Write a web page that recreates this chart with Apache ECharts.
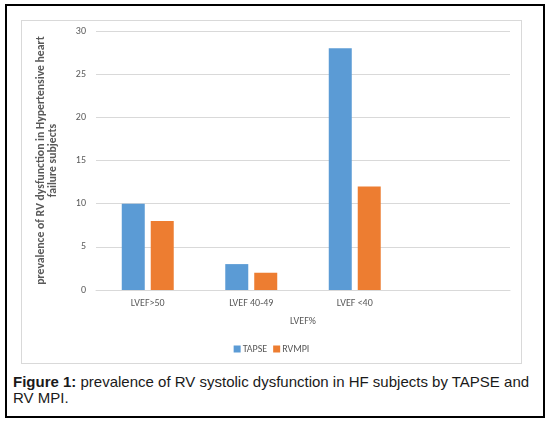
<!DOCTYPE html>
<html>
  <head>
    <meta charset="utf-8" />
    <title>RV dysfunction</title>
    <script src="https://cdn.jsdelivr.net/npm/echarts@6.0.0/dist/echarts.min.js"></script>
    <style>
      body { margin: 0; width: 549px; height: 423px; background: #fff; position: relative; overflow: hidden; }
      #frame { position: absolute; left: 5px; top: 4px; width: 536px; height: 410px; border: 2px solid #000; }
      #chartContainer { position: absolute; left: 21px; top: 20px; width: 499px; height: 342px; border: 1px solid #d9d9d9; }
      #caption { position: absolute; left: 13px; top: 374px; width: 528px; font-family: "Liberation Sans", Arial, sans-serif; font-size: 15px; line-height: 16px; color: #1a1a1a; }
    </style>
  </head>
  <body>
    <div id="frame"></div>
    <div id="chartContainer"></div>
    <div id="caption"><b>Figure 1:</b> prevalence of RV systolic dysfunction in HF subjects by TAPSE and RV MPI.</div>
    <script>
        // 数据
        var categories = ['LVEF>50', 'LVEF 40-49', 'LVEF <40', ''];
        var tapse = [10, 3, 28, null];
        var rvmpi = [8, 2, 12, null];
        var yTicks = [0, 30, 5]; // min, max, interval

        var myChart = echarts.init(document.getElementById('chartContainer'));
        var labelFont = { color: '#595959', fontFamily: 'Carlito, Lato', fontSize: 10 };

        var option = {
          animation: false,
          grid: { left: 74, right: 11, top: 10, bottom: 73 },
          legend: {
            data: ['TAPSE', 'RVMPI'],
            top: 318,
            left: 'center',
            itemWidth: 7,
            itemHeight: 7,
            itemGap: 6,
            icon: 'rect',
            textStyle: Object.assign({}, labelFont, { padding: [0, 0, 0, -3] }),
          },
          xAxis: {
            type: 'category',
            data: categories,
            name: 'LVEF%',
            nameLocation: 'middle',
            nameGap: 26,
            nameTextStyle: labelFont,
            axisLine: { lineStyle: { color: '#d9d9d9' } },
            axisTick: { show: false },
            axisLabel: Object.assign({ margin: 8 }, labelFont),
          },
          yAxis: {
            type: 'value',
            min: yTicks[0],
            max: yTicks[1],
            interval: yTicks[2],
            name: 'prevalence of RV dysfunction in Hypertensive heart\nfailure subjects',
            nameLocation: 'middle',
            nameRotate: 90,
            nameGap: 37,
            nameTextStyle: { color: '#595959', fontFamily: 'Carlito, Lato', fontSize: 11.7, fontWeight: 'bold', lineHeight: 12 },
            axisLabel: Object.assign({ margin: 10 }, labelFont),
            splitLine: { lineStyle: { color: '#d9d9d9' } },
          },
          series: [
            {
              name: 'TAPSE',
              type: 'bar',
              data: tapse,
              barWidth: 23,
              barGap: '26%',
              itemStyle: { color: '#5b9bd5' },
            },
            {
              name: 'RVMPI',
              type: 'bar',
              data: rvmpi,
              barWidth: 23,
              itemStyle: { color: '#ed7d31' },
            },
          ],
        };
        myChart.setOption(option);
    </script>
  </body>
</html>
